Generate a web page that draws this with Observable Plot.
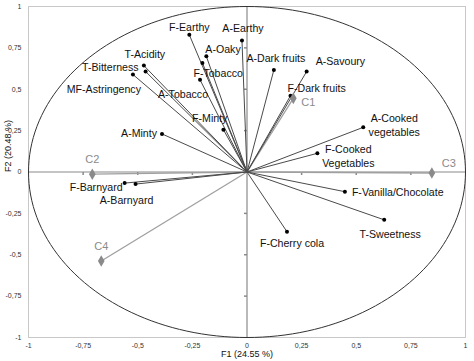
<!DOCTYPE html>
<html>
<head>
<meta charset="utf-8">
<script src="https://cdn.jsdelivr.net/npm/d3@7"></script>
<script src="https://cdn.jsdelivr.net/npm/@observablehq/plot@0.6"></script>
<style>
  body { margin: 0; background: white; }
</style>
</head>
<body>
<div id="chart"></div>
<script>
// Active variables (correlation with F1, F2)
const variables = ["F-Earthy","A-Earthy","A-Oaky","F-Tobacco","A-Tobacco","T-Acidity","T-Bitterness","MF-Astringency","F-Minty","A-Minty","A-Dark fruits","A-Savoury","F-Dark fruits","A-Cooked\nvegetables","F-Cooked\nVegetables","F-Barnyard","A-Barnyard","F-Vanilla/Chocolate","T-Sweetness","F-Cherry cola"];
const f1 = [-0.264,-0.023,-0.186,-0.204,-0.215,-0.472,-0.464,-0.522,-0.108,-0.389,0.123,0.273,0.199,0.532,0.322,-0.560,-0.510,0.448,0.628,0.183];
const f2 = [0.829,0.794,0.699,0.659,0.557,0.643,0.607,0.589,0.256,0.230,0.617,0.607,0.461,0.270,0.113,-0.067,-0.073,-0.119,-0.289,-0.361];

// Supplementary variables
const supNames = ["C1","C2","C3","C4"];
const supF1 = [0.212,-0.708,0.846,-0.667];
const supF2 = [0.445,-0.013,-0.006,-0.538];

// Axis ticks
const tickValues = [-1,-0.75,-0.5,-0.25,0,0.25,0.5,0.75,1];
const tickLabels = ["-1","-0,75","-0,5","-0,25","0","0,25","0,5","0,75","1"];

const xTitle = "F1 (24.55 %)";
const yTitle = "F2 (20.48 %)";

// Label placement (pixel offsets relative to the point)
const placement = {
  "F-Earthy": ["middle", 0, -9],
  "A-Earthy": ["middle", 1, -13],
  "A-Oaky": ["start", -1, -8],
  "F-Tobacco": ["start", -9, 9],
  "A-Tobacco": ["middle", -17, 13],
  "T-Acidity": ["middle", 1, -12],
  "T-Bitterness": ["end", -7, -5],
  "MF-Astringency": ["end", 8, 14],
  "F-Minty": ["end", 4, -12],
  "A-Minty": ["end", -5, -2],
  "A-Dark fruits": ["middle", 2, -13],
  "A-Savoury": ["start", 9, -11],
  "F-Dark fruits": ["start", -3, -8],
  "A-Cooked\nvegetables": ["middle", 31, -3],
  "F-Cooked\nVegetables": ["middle", 31, 2],
  "F-Barnyard": ["end", -2, 3],
  "A-Barnyard": ["middle", -9, 15],
  "F-Vanilla/Chocolate": ["start", 7, 0],
  "T-Sweetness": ["middle", 6, 13],
  "F-Cherry cola": ["middle", 5, 11]
};
const supPlacement = {
  "C1": ["start", 8, 4],
  "C2": ["middle", 0, -15],
  "C3": ["start", 10, -10],
  "C4": ["middle", 0, -15]
};

const vars = variables.map((name, i) => ({name, x: f1[i], y: f2[i]}));
const sups = supNames.map((name, i) => ({name, x: supF1[i], y: supF2[i]}));

// unit correlation circle
const circle = d3.range(0, 361, 2).map(a => ({x: Math.cos(a * Math.PI / 180), y: Math.sin(a * Math.PI / 180)}));

const fmt = d => tickLabels[tickValues.indexOf(d)];

const hTick = {draw(ctx) { ctx.moveTo(-3, 0); ctx.lineTo(0, 0); }};
const vTick = {draw(ctx) { ctx.moveTo(0, 0); ctx.lineTo(0, 3); }};

const labelMarks = vars.map(d => {
  const [anchor, dx, dy] = placement[d.name];
  return Plot.text([d], {x: "x", y: "y", text: "name", textAnchor: anchor, dx, dy, fontSize: 10.6, fill: "#111", lineHeight: 1.4});
});
const supLabelMarks = sups.map(d => {
  const [anchor, dx, dy] = supPlacement[d.name];
  return Plot.text([d], {x: "x", y: "y", text: "name", textAnchor: anchor, dx, dy, fontSize: 11, fill: "#8a8a8a"});
});

const chart = Plot.plot({
  width: 474,
  height: 361,
  marginLeft: 28,
  marginRight: 9,
  marginTop: 6,
  marginBottom: 24,
  x: {domain: [-1, 1]},
  y: {domain: [-1, 1]},
  style: {fontFamily: "'Liberation Sans', Arial, sans-serif", background: "white"},
  marks: [
    Plot.frame({stroke: "#c8c8c8"}),
    Plot.ruleX([0], {stroke: "#8a8a8a", strokeWidth: 1.2}),
    Plot.ruleY([0], {stroke: "#8a8a8a", strokeWidth: 1.2}),
    Plot.dot(tickValues.filter(t => Math.abs(t) < 1 && t !== 0), {x: 0, y: d => d, symbol: hTick, stroke: "#8a8a8a", r: 3}),
    Plot.dot(tickValues.filter(t => Math.abs(t) < 1 && t !== 0), {x: d => d, y: 0, symbol: vTick, stroke: "#8a8a8a", r: 3}),
    Plot.line(circle, {x: "x", y: "y", stroke: "#333", strokeWidth: 1}),
    Plot.link(sups, {x1: 0, y1: 0, x2: "x", y2: "y", stroke: "#a0a0a0", strokeWidth: 1.3}),
    Plot.link(vars, {x1: 0, y1: 0, x2: "x", y2: "y", stroke: "#4a4a4a", strokeWidth: 1}),
    Plot.dot(vars, {x: "x", y: "y", r: 2, fill: "#000"}),
    Plot.dot(sups, {x: "x", y: "y", r: 3.5, symbol: "diamond", fill: "#8a8a8a"}),
    ...labelMarks,
    ...supLabelMarks,
    Plot.axisX({ticks: tickValues, tickFormat: fmt, tickSize: 0, tickPadding: 6, fontSize: 7, fill: "#333", label: null}),
    Plot.axisY({ticks: tickValues, tickFormat: fmt, tickSize: 0, tickPadding: 7, fontSize: 7, fill: "#333", label: null}),
    Plot.text([xTitle], {frameAnchor: "bottom", dy: 19, fontSize: 9, fill: "#111"}),
    Plot.text([yTitle], {frameAnchor: "left", rotate: -90, dx: -20, fontSize: 9, fill: "#111"})
  ]
});
document.getElementById("chart").appendChild(chart);
</script>
</body>
</html>
